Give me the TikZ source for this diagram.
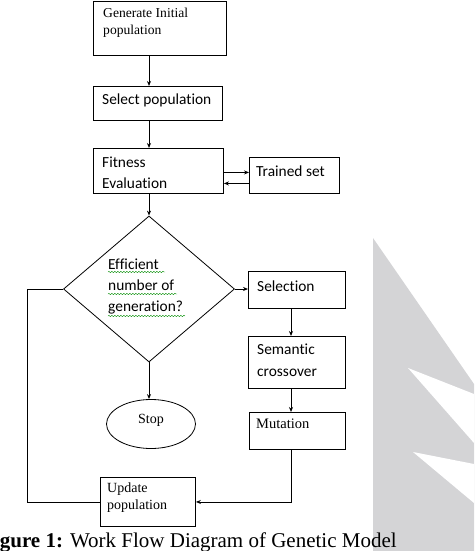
\documentclass[tikz,border=0pt]{standalone}
\usepackage{fontspec}
\setmainfont{Liberation Serif}
\newfontfamily\calib[Ligatures={NoCommon}]{Carlito}
\usetikzlibrary{arrows.meta,shapes.geometric,decorations.pathmorphing}
\definecolor{wmark}{RGB}{212,212,214}

\begin{document}
\begin{tikzpicture}[
		x=1pt, y=-1pt,
		>={Stealth[length=5pt,width=4pt]},
		box/.style={draw, line width=0.9pt, inner sep=0pt, anchor=north west},
		arr/.style={line width=1pt, ->},
		line/.style={line width=0.8pt},
		sans/.style={anchor=base west, inner sep=0pt, font=\calib\fontsize{15.4}{18}\selectfont},
		serif/.style={anchor=base west, inner sep=0pt, font=\fontsize{14}{17}\selectfont},
		spell/.style={green!55!black, line width=0.4pt, decorate,
			decoration={snake, amplitude=0.7pt, segment length=3pt}}
	]
		\useasboundingbox (0,0) rectangle (474,551);
		\clip (0,0) rectangle (474,551);

		%watermark
		\fill[wmark] (373,238) -- (474,384) -- (474,551) -- (373,551) -- cycle;
		\fill[white] (408,368) -- (474,394) -- (474,443) -- cycle;
		\fill[white] (413,452) -- (474,464) -- (474,503) -- cycle;

		%columns
		\coordinate (mid) at (149,0);
		\coordinate (rcol) at (291,0);

		%boxes
		\node[box, minimum width=133pt, minimum height=54pt] (gen) at (93,1) {};
		\node[serif, font=\fontsize{13.6}{17}\selectfont] at (103,18) {Generate Initial};
		\node[serif, font=\fontsize{13.6}{17}\selectfont] at (103,35) {population};

		\node[box, minimum width=129pt, minimum height=34pt] (sel) at (93,86) {};
		\node[sans] at (102,104) {Select population};

		\node[box, minimum width=130pt, minimum height=45pt] (fit) at (93,148) {};
		\node[sans] at (102,167) {Fitness};
		\node[sans] at (102,188) {Evaluation};

		\node[box, minimum width=90pt, minimum height=36pt] (trn) at (249,157) {};
		\node[sans] at (256,176) {Trained set};

		%decision
		\node[diamond, draw, line width=0.8pt, inner sep=0pt,
			minimum width=171pt, minimum height=146pt] (dia) at (149,289) {};
		\node[sans] at (108,269) {Efficient};
		\node[sans] at (108,290) {number of};
		\node[sans] at (108,311) {generation?};
		\draw[spell] (108,272) -- (165,272);
		\draw[spell] (108,294) -- (177,294);
		\draw[spell] (108,316) -- (185,316);

		\node[box, minimum width=97pt, minimum height=37pt] (sln) at (248,271) {};
		\node[sans] at (257,291) {Selection};

		\node[box, minimum width=97pt, minimum height=52pt] (sem) at (248,336) {};
		\node[sans] at (257,354) {Semantic};
		\node[sans] at (257,376) {crossover};

		\node[box, minimum width=96pt, minimum height=37pt] (mut) at (249,412) {};
		\node[serif, font=\fontsize{14.5}{17}\selectfont] at (256,428) {Mutation};

		\node[ellipse, draw, line width=0.8pt, inner sep=0pt,
			minimum width=89pt, minimum height=49pt] (stp) at (151,424) {};
		\node[serif, anchor=base] at (151,423) {Stop};

		\node[box, minimum width=95pt, minimum height=49pt] (upd) at (100,477) {};
		\node[serif] at (107,492) {Update};
		\node[serif] at (107,509) {population};

		%arrows
		\draw[arr] (mid |- gen.south) -- (mid |- sel.north);
		\draw[arr] (mid |- sel.south) -- (mid |- fit.north);
		\coordinate (f1) at ([yshift=-1.5pt]fit.east);
		\coordinate (f2) at ([yshift=-12.5pt]fit.east);
		\draw[line, ->] (f1) -- (f1 -| trn.west);
		\draw[line, ->] (f2 -| trn.west) -- (f2);
		\draw[arr] (mid |- fit.south) -- (dia.north);
		\draw[line, ->] (dia.east) -- (dia.east -| sln.west);
		\draw[line, ->] (rcol |- sln.south) -- (rcol |- sem.north);
		\draw[line, ->] (rcol |- sem.south) -- (rcol |- mut.north);
		\draw[arr] (dia.south) -- (mid |- stp.north);
		\draw[line, ->] (rcol |- mut.south) |- (upd.east);
		\draw[line] (upd.west) -- ++(-73,0) |- (dia.west);

		%caption
		\node[anchor=base west, inner sep=0pt, font=\fontsize{21}{24}\selectfont] (cap)
			at (-19,547) {\textbf{Figure 1:} Work Flow Diagram of Genetic Model};
	\end{tikzpicture}
\end{document}
